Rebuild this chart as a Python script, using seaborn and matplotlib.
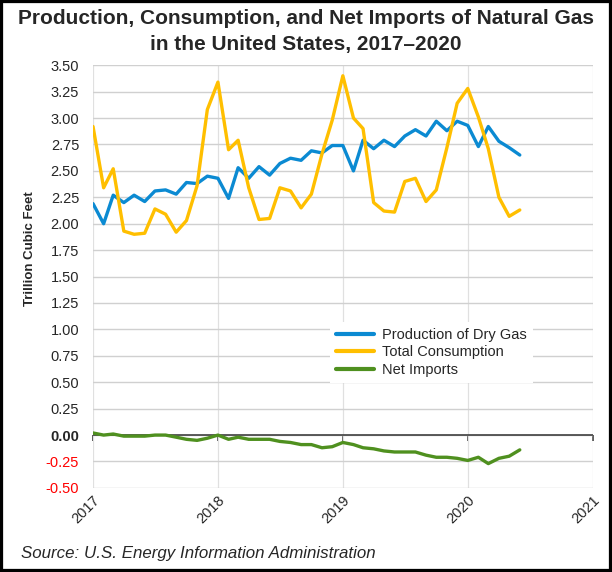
import pandas as pd
import numpy as np
import matplotlib
matplotlib.use("Agg")
import matplotlib.pyplot as plt
from matplotlib.patches import Rectangle
import seaborn as sns

# monthly data, Jan 2017 - Jun 2020 (trillion cubic feet)
months = pd.date_range("2017-01-01", "2020-06-01", freq="MS")

production = [2.19, 2.00, 2.27, 2.20, 2.27, 2.21, 2.31, 2.32, 2.28, 2.39, 2.38, 2.45,
              2.43, 2.24, 2.53, 2.43, 2.54, 2.46, 2.57, 2.62, 2.60, 2.69, 2.67, 2.74,
              2.74, 2.50, 2.79, 2.71, 2.79, 2.73, 2.83, 2.89, 2.83, 2.97, 2.88, 2.97,
              2.93, 2.73, 2.92, 2.78, 2.72, 2.65]
consumption = [2.92, 2.34, 2.52, 1.93, 1.90, 1.91, 2.14, 2.09, 1.92, 2.03, 2.36, 3.08,
               3.34, 2.70, 2.79, 2.34, 2.04, 2.05, 2.34, 2.31, 2.15, 2.28, 2.66, 2.98,
               3.40, 3.00, 2.90, 2.20, 2.12, 2.11, 2.40, 2.43, 2.21, 2.32, 2.72, 3.14,
               3.28, 3.01, 2.71, 2.25, 2.07, 2.13]
net_imports = [0.02, 0.00, 0.01, -0.01, -0.01, -0.01, 0.00, 0.00, -0.02, -0.04, -0.05, -0.03,
               0.00, -0.04, -0.02, -0.04, -0.04, -0.04, -0.06, -0.07, -0.09, -0.09, -0.12, -0.11,
               -0.07, -0.09, -0.12, -0.13, -0.15, -0.16, -0.16, -0.16, -0.19, -0.21, -0.21, -0.22,
               -0.24, -0.21, -0.27, -0.22, -0.20, -0.14]

series_names = ["Production of Dry Gas", "Total Consumption", "Net Imports"]
series_colors = ["#0b8ad2", "#ffbf00", "#4f901f"]

y_ticks = np.arange(-0.5, 3.51, 0.25)
x_years = ["2017", "2018", "2019", "2020", "2021"]

df = pd.DataFrame({
    "date": list(months) * 3,
    "value": production + consumption + net_imports,
    "series": [series_names[0]] * len(months) + [series_names[1]] * len(months)
              + [series_names[2]] * len(months),
})

sns.set_theme(style="white")
plt.rcParams["font.family"] = ["Liberation Sans", "DejaVu Sans"]

fig = plt.figure(figsize=(6.12, 5.72), dpi=100)
ax = fig.add_axes([0.152, 0.147, 0.817, 0.739])

sns.lineplot(data=df, x="date", y="value", hue="series", hue_order=series_names,
             palette=series_colors, linewidth=2.4, ax=ax)

year_dates = pd.to_datetime([y + "-01-01" for y in x_years])
ax.set_xlim(year_dates[0], year_dates[-1])
ax.set_ylim(-0.5, 3.5)
ax.set_xticks(year_dates)
ax.set_xticklabels(x_years, rotation=45, ha="right", rotation_mode="anchor", fontsize=10.5)
ax.set_yticks(y_ticks)
ax.set_yticklabels([f"{v:.2f}" for v in y_ticks], fontsize=10.5)
for lab, v in zip(ax.get_yticklabels(), y_ticks):
    if v < -0.001:
        lab.set_color("red")
    elif abs(v) < 0.001:
        lab.set_fontweight("bold")
ax.tick_params(axis="both", length=0, pad=10)
ax.tick_params(axis="x", pad=4)

ax.grid(True, axis="y", color="#d0d0d0", linewidth=1.0)
ax.grid(True, axis="x", color="#e0e0e0", linewidth=0.9)
for s in ax.spines.values():
    s.set_visible(False)
ax.axhline(0, color="#404040", linewidth=1.2, zorder=1.5)

# small ticks on the zero line
sec = ax.secondary_xaxis(0, transform=ax.transData)
sec.set_xticks(year_dates)
sec.set_xticklabels([])
sec.tick_params(axis="x", length=4, width=1.2, color="#404040", direction="out")
sec.spines["bottom"].set_visible(False)

ax.set_xlabel("")
ax.set_ylabel("Trillion Cubic Feet", fontsize=9.5, fontweight="bold")
ax.yaxis.set_label_coords(-0.115, 0.567)

leg = ax.legend(loc="upper left", bbox_to_anchor=(0.46, 0.41), fontsize=10.5,
                frameon=True, facecolor="white", edgecolor="none", framealpha=1,
                handlelength=2.6, handletextpad=0.55, labelspacing=0.25,
                borderpad=0.4, fancybox=False)
for line in leg.get_lines():
    line.set_linewidth(3)

fig.text(0.5, 0.984, "Production, Consumption, and Net Imports of Natural Gas\nin the United States, 2017\u20132020",
         ha="center", va="top", fontsize=15, fontweight="bold", linespacing=1.45)
fig.text(0.035, 0.033, "Source: U.S. Energy Information Administration",
         ha="left", va="center", fontsize=12.2, style="italic")

fig.patches.append(Rectangle((0, 0), 1, 1, transform=fig.transFigure, fill=False,
                             edgecolor="black", linewidth=4.5))

fig.savefig("out.png", dpi=100)
